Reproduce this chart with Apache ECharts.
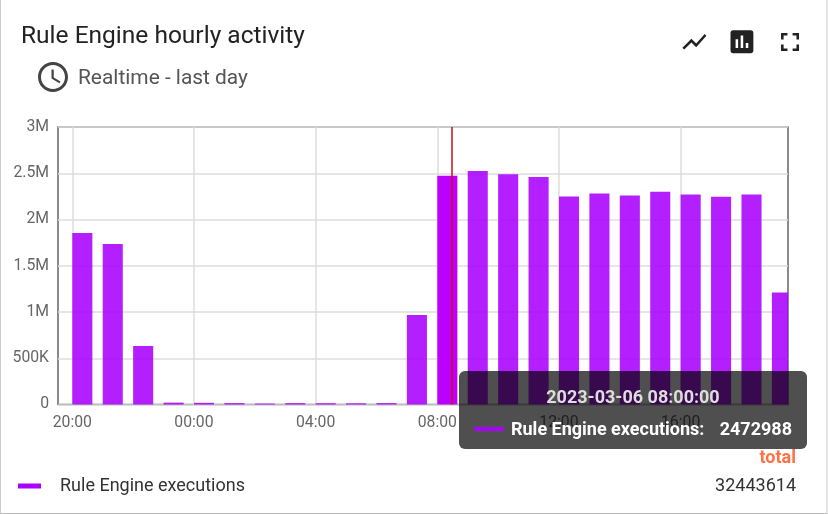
<!DOCTYPE html>
<html>
<head>
<meta charset="utf-8">
<script src="https://cdn.jsdelivr.net/npm/echarts@6/dist/echarts.min.js"></script>
<style>
  html, body { margin: 0; padding: 0; background: #fff; }
  #main { width: 828px; height: 514px; box-sizing: border-box; }
  #card { position: absolute; left: 0; top: 0; width: 828px; height: 514px; box-sizing: border-box;
    border-left: 1px solid #ccc; border-right: 2px solid #e4e4e4; border-bottom: 1px solid #bbb; pointer-events: none; }
</style>
</head>
<body>
<div id="main"></div>
<div id="card"></div>
<script type="text/javascript">
var HOUR = 3600 * 1000;
var startTime = Date.UTC(2023, 2, 5, 20, 0, 0);

var seriesName = 'Rule Engine executions';
var executions = [
  1854000, 1735000, 632000, 20000, 18000, 15000, 10000, 15000, 14000, 13000, 15000, 968000,
  2472988, 2524000, 2490000, 2460000, 2250000, 2280000, 2260000, 2300000, 2270000, 2245000, 2270000, 1210000
];
var hours = executions.map(function (v, i) { return startTime + i * HOUR; });
var xTicks = [0, 4, 8, 12, 16, 20].map(function (h) { return startTime + h * HOUR; });
var yTicks = { 0: '0', 500000: '500K', 1000000: '1M', 1500000: '1.5M', 2000000: '2M', 2500000: '2.5M', 3000000: '3M' };
var totalValue = '32443614';
var hoverIndex = 12;
var cursorTime = startTime + 12.47 * HOUR;

var clockIcon = 'M11.99 2C6.47 2 2 6.48 2 12s4.47 10 9.99 10C17.52 22 22 17.52 22 12S17.52 2 11.99 2zM12 20c-4.42 0-8-3.58-8-8s3.58-8 8-8 8 3.58 8 8-3.58 8-8 8zm.5-13H11v6l5.25 3.15.75-1.23-4.5-2.67z';
var lineIcon = 'M3.5 18.49l6-6.01 4 4L22 6.92l-1.41-1.41-7.09 7.97-4-4L2 16.99z';
var barIcon = 'M19 3H5c-1.1 0-2 .9-2 2v14c0 1.1.9 2 2 2h14c1.1 0 2-.9 2-2V5c0-1.1-.9-2-2-2zM9 17H7v-7h2v7zm4 0h-2V7h2v10zm4 0h-2v-4h2v4z';
var fullIcon = 'M7 14H5v5h5v-2H7v-3zm-2-4h2V7h3V5H5v5zm12 7h-3v2h5v-5h-2v3zM14 5v2h3v3h2V5h-5z';

function pad(n) { return (n < 10 ? '0' : '') + n; }

// the graphic component has no plain path type, so each icon gets its own shape
function icon(name, path, x, y, scale, color) {
  echarts.graphic.registerShape(name, echarts.graphic.extendPath(path, {}));
  return { type: name, silent: true, x: x, y: y, scaleX: scale, scaleY: scale, style: { fill: color } };
}

// flot style bars: they start at the hour and run 40 minutes to the right
function renderBar(params, api) {
  var t = api.value(0);
  var top = api.coord([t, api.value(1)]);
  var end = api.coord([t + HOUR * 0.66, 0]);
  var rect = echarts.graphic.clipRectByRect(
    { x: top[0], y: top[1], width: end[0] - top[0], height: end[1] - top[1] },
    { x: params.coordSys.x, y: params.coordSys.y, width: params.coordSys.width, height: params.coordSys.height }
  );
  if (!rect) return;
  return {
    type: 'rect',
    shape: rect,
    style: { fill: params.dataIndex === hoverIndex ? '#aa00ff' : 'rgba(170,0,255,0.88)' }
  };
}

var myChart = echarts.init(document.getElementById('main'));
var option = {
  animation: false,
  textStyle: { fontFamily: 'Roboto' },
  title: [
    { text: 'Rule Engine hourly activity', left: 21, top: 24, padding: 0,
      textStyle: { fontFamily: 'Roboto', fontSize: 24.5, fontWeight: 400, color: '#222' } },
    { text: 'Realtime - last day', left: 78, top: 68, padding: 0,
      textStyle: { fontFamily: 'Roboto', fontSize: 20.9, fontWeight: 400, color: '#555' } }
  ],
  legend: {
    left: 13, top: 472,
    icon: 'rect', itemWidth: 23, itemHeight: 5, selectedMode: false,
    textStyle: { fontFamily: 'Roboto', fontSize: 18, color: '#333', padding: [0, 0, 0, 14] },
    data: [{ name: seriesName, itemStyle: { color: '#aa00ff' } }]
  },
  grid: { show: true, left: 58, top: 127, right: 40, bottom: 109.5, borderColor: '#666', borderWidth: 1.5 },
  xAxis: {
    type: 'value',
    min: startTime - 0.47 * HOUR,
    max: startTime + 23.53 * HOUR,
    axisLine: { show: false },
    axisTick: { show: false, customValues: xTicks },
    splitLine: { show: true, lineStyle: { color: '#ddd', width: 1.5 } },
    axisLabel: {
      customValues: xTicks,
      fontFamily: 'Roboto', fontSize: 15.75, color: '#666', margin: 11,
      formatter: function (v) { return pad(new Date(v).getUTCHours()) + ':00'; }
    }
  },
  yAxis: {
    type: 'value', min: 0, max: 3000000, interval: 500000,
    axisLine: { show: false },
    axisTick: { show: false },
    splitLine: { lineStyle: { color: '#ddd', width: 1.5 } },
    axisLabel: {
      fontFamily: 'Roboto', fontSize: 15.75, color: '#666', margin: 9, padding: [8, 0, 0, 0],
      formatter: function (v) { return yTicks[v]; }
    }
  },
  tooltip: {
    trigger: 'axis',
    alwaysShowContent: true,
    transitionDuration: 0,
    position: [459, 371],
    padding: 0,
    borderWidth: 0,
    backgroundColor: 'rgba(0,0,0,0.69)',
    extraCssText: 'box-shadow:none;border-radius:6px;width:348px;height:78px;box-sizing:border-box;',
    axisPointer: { type: 'none' },
    formatter: function (params) {
      var d = new Date(params[0].value[0]);
      var stamp = d.getUTCFullYear() + '-' + pad(d.getUTCMonth() + 1) + '-' + pad(d.getUTCDate()) + ' ' +
        pad(d.getUTCHours()) + ':' + pad(d.getUTCMinutes()) + ':' + pad(d.getUTCSeconds());
      return '<div style="font:700 18px Roboto;color:#ddd;text-align:center;padding-top:16px;line-height:20px;">' + stamp + '</div>' +
        '<div style="position:relative;font:700 18px Roboto;color:#fff;line-height:20px;margin-top:12px;">' +
        '<span style="position:absolute;left:15px;top:8px;width:30px;height:4px;background:#aa00ff;"></span>' +
        '<span style="position:absolute;left:52px;">' + params[0].seriesName + ':</span>' +
        '<span style="position:absolute;right:15px;">' + params[0].value[1] + '</span></div>';
    }
  },
  graphic: [
    icon('clockIcon', clockIcon, 35, 59, 1.5, '#444'),
    icon('lineIcon', lineIcon, 680, 27.4, 1.2, '#222'),
    icon('barIcon', barIcon, 726.7, 26.5, 1.27, '#222'),
    icon('fullIcon', fullIcon, 774.6, 26.6, 1.286, '#222'),
    { type: 'text', silent: true, x: 796, y: 449, style: { text: 'total', align: 'right', font: '700 18px Roboto', fill: '#ff7043' } },
    { type: 'text', silent: true, x: 796, y: 477, style: { text: totalValue, align: 'right', font: '400 18px Roboto', fill: '#333' } }
  ],
  series: [
    {
      name: seriesName,
      type: 'custom',
      renderItem: renderBar,
      encode: { x: 0, y: 1 },
      itemStyle: { color: '#aa00ff' },
      markLine: {
        silent: true,
        animation: false,
        symbol: 'none',
        label: { show: false },
        lineStyle: { color: '#c8101e', width: 1.5, type: 'solid' },
        data: [{ xAxis: cursorTime }]
      },
      data: hours.map(function (t, i) { return [t, executions[i]]; })
    }
  ]
};
myChart.setOption(option);
myChart.dispatchAction({ type: 'showTip', x: 440, y: 250 });
</script>
</body>
</html>
